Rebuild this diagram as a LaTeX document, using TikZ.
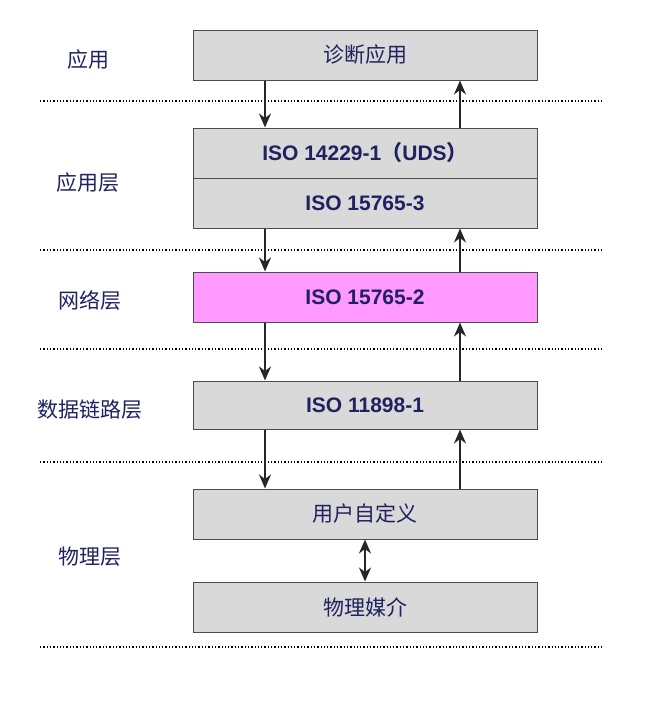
\documentclass[tikz,border=0pt]{standalone}
\usepackage{fontspec}
\setmainfont{Liberation Sans}
\newfontfamily\cjk{Noto Sans CJK SC}
\usetikzlibrary{arrows.meta}
\definecolor{txt}{HTML}{1F2160}
\begin{document}
\begin{tikzpicture}[x=1pt,y=-1pt,
  box/.style={draw=black!70,line width=1pt,fill=black!15,minimum width=344pt,minimum height=50pt,inner sep=0pt,text=txt,font=\fontsize{21}{23}\selectfont},
  iso/.style={font=\fontsize{21}{23}\selectfont\bfseries},
  zh/.style={font=\cjk\fontsize{21}{23}\selectfont},
  lab/.style={text=txt,font=\cjk\fontsize{21}{23}\selectfont},
  sep/.style={dotted,line width=1.3pt},
  tip/.style={Stealth[length=14pt,width=12pt]},
  arr/.style={-{Stealth[length=14pt,width=12pt]},line width=2.2pt,black!85}]
\useasboundingbox (0,0) rectangle (658,723);
\node[box,zh] (a) at (365,55) {诊断应用};
\node[box,iso] (b) at (365,153) {ISO 14229-1{\cjk （}UDS{\cjk ）}};
\node[box,iso] (c) at (365,203) {ISO 15765-3};
\node[box,iso,fill={rgb,255:red,255;green,153;blue,255}] (d) at (365,297) {ISO 15765-2};
\node[box,iso,minimum height=48pt] (e) at (365,405) {ISO 11898-1};
\node[box,zh] (f) at (365,514) {用户自定义};
\node[box,zh] (g) at (365,607) {物理媒介};
\coordinate (dx) at (265,0);
\coordinate (ux) at (460,0);
\foreach \y in {101,250,349,462,647} \draw[sep] (40,\y) -- (602,\y);
\node[lab] (l1) at (88,60) {应用};
\node[lab] (l2) at (88,183) {应用层};
\node[lab] (l3) at (90,300) {网络层};
\node[lab] (l4) at (90,410) {数据链路层};
\node[lab] (l5) at (90,557) {物理层};
\foreach \p/\q in {a/b,c/d,d/e,e/f}{
  \draw[arr] (\p.south -| dx) -- (\q.north -| dx);
  \draw[arr] (\q.north -| ux) -- (\p.south -| ux);}
\draw[arr,{Stealth[length=14pt,width=12pt]}-{Stealth[length=14pt,width=12pt]}] (f.south) -- (g.north);
\end{tikzpicture}
\end{document}
